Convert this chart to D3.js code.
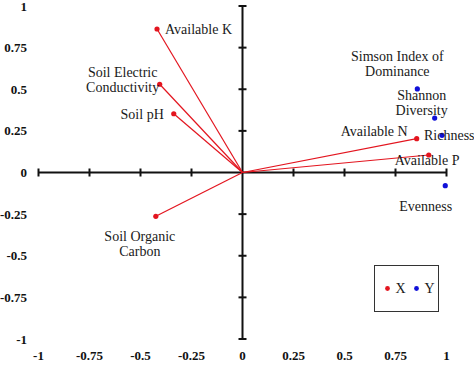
<!DOCTYPE html>
<html>
<head>
<meta charset="utf-8">
<script src="https://cdn.jsdelivr.net/npm/d3@7/dist/d3.min.js"></script>
<style>
  body { margin: 0; background: #fff; }
</style>
</head>
<body>
<script>
// ---- data ----
const xNames = ['Available K', 'Soil Electric\nConductivity', 'Soil pH', 'Soil Organic\nCarbon', 'Available N', 'Available P']
const xLoadX = [-0.419, -0.406, -0.337, -0.425, 0.854, 0.913]
const xLoadY = [0.862, 0.53, 0.353, -0.263, 0.203, 0.105]

const yNames = ['Simson Index of\nDominance', 'Shannon\nDiversity', 'Richness', 'Evenness']
const yLoadX = [0.857, 0.942, 0.978, 0.994]
const yLoadY = [0.502, 0.327, 0.223, -0.079]

const tickValues = [-1, -0.75, -0.5, -0.25, 0, 0.25, 0.5, 0.75, 1]
const legendItems = ['X', 'Y']

// ---- label placement (offsets from the point) ----
const labelLayout = {
  'Available K': { dx: 8, dy: 1, anchor: 'start' },
  'Soil Electric\nConductivity': { dx: -37, dy: -12, anchor: 'middle' },
  'Soil pH': { dx: -10, dy: 1, anchor: 'end' },
  'Soil Organic\nCarbon': { dx: -16, dy: 20, anchor: 'middle' },
  'Available N': { dx: -9, dy: -7, anchor: 'end' },
  'Available P': { dx: -34, dy: 5, anchor: 'start' },
  'Simson Index of\nDominance': { dx: -20, dy: -32, anchor: 'middle' },
  'Shannon\nDiversity': { dx: -13, dy: -23, anchor: 'middle' },
  'Richness': { dx: -18, dy: 0, anchor: 'start' },
  'Evenness': { dx: -46, dy: 21, anchor: 'start' },
}

const W = 474, H = 385
const RED = '#e3151f', BLUE = '#1010d8'
const FONT = "'Times New Roman', Tinos, serif"

const svg = d3.select('body').append('svg')
  .attr('width', W)
  .attr('height', H)
  .style('display', 'block')
  .style('font-family', FONT)

const x = d3.scaleLinear().domain([-1, 1]).range([38.5, 446.5])
const y = d3.scaleLinear().domain([-1, 1]).range([339, 6])

// axes cross at the origin
const axes = svg.append('g')
  .attr('stroke', '#111')
  .attr('stroke-width', 2)

axes.append('line')
  .attr('x1', x(-1)).attr('x2', x(1))
  .attr('y1', y(0)).attr('y2', y(0))
axes.append('line')
  .attr('x1', x(0)).attr('x2', x(0))
  .attr('y1', y(1)).attr('y2', y(-1))

axes.selectAll('.xtick')
  .data(tickValues.filter(v => v !== 0))
  .join('line')
  .attr('x1', d => x(d)).attr('x2', d => x(d))
  .attr('y1', y(0) - 4).attr('y2', y(0) + 4)

axes.selectAll('.ytick')
  .data(tickValues.filter(v => v !== 0))
  .join('line')
  .attr('class', 'ytick')
  .attr('x1', x(0) - 4).attr('x2', x(0) + 4)
  .attr('y1', d => y(d)).attr('y2', d => y(d))

// tick labels sit at the plot edges
svg.append('g')
  .selectAll('text')
  .data(tickValues)
  .join('text')
  .attr('x', d => x(d))
  .attr('y', 360)
  .attr('text-anchor', 'middle')
  .attr('font-size', 13)
  .attr('font-weight', 'bold')
  .attr('fill', '#111')
  .text(d => String(d))

svg.append('g')
  .selectAll('text')
  .data(tickValues)
  .join('text')
  .attr('x', 27)
  .attr('y', d => y(d) + 4.5)
  .attr('text-anchor', 'end')
  .attr('font-size', 13)
  .attr('font-weight', 'bold')
  .attr('fill', '#111')
  .text(d => String(d))

// X loadings: vectors from origin
const xPoints = xNames.map((name, i) => ({ name, vx: xLoadX[i], vy: xLoadY[i] }))
const yPoints = yNames.map((name, i) => ({ name, vx: yLoadX[i], vy: yLoadY[i] }))

svg.append('g')
  .selectAll('line')
  .data(xPoints)
  .join('line')
  .attr('x1', x(0)).attr('y1', y(0))
  .attr('x2', d => x(d.vx)).attr('y2', d => y(d.vy))
  .attr('stroke', RED)
  .attr('stroke-width', 1.2)

svg.append('g')
  .selectAll('circle')
  .data(xPoints)
  .join('circle')
  .attr('cx', d => x(d.vx)).attr('cy', d => y(d.vy))
  .attr('r', 2.6)
  .attr('fill', RED)

svg.append('g')
  .selectAll('circle')
  .data(yPoints)
  .join('circle')
  .attr('cx', d => x(d.vx)).attr('cy', d => y(d.vy))
  .attr('r', 2.6)
  .attr('fill', BLUE)

// point labels
const labels = svg.append('g')
  .attr('font-size', 14)
  .attr('fill', '#1a1a1a')

xPoints.concat(yPoints).forEach(d => {
  const lay = labelLayout[d.name]
  const lines = d.name.split('\n')
  const t = labels.append('text')
    .attr('text-anchor', lay.anchor)
  lines.forEach((line, k) => {
    t.append('tspan')
      .attr('x', x(d.vx) + lay.dx)
      .attr('y', y(d.vy) + lay.dy + k * 15 + 4.5)
      .text(line)
  })
})

// legend
const legend = svg.append('g').attr('transform', 'translate(374.5,265.5)')
legend.append('rect')
  .attr('width', 64).attr('height', 46)
  .attr('fill', 'none')
  .attr('stroke', '#333')
  .attr('stroke-width', 1)

const legendColor = d3.scaleOrdinal().domain(legendItems).range([RED, BLUE])
const li = legend.selectAll('g')
  .data(legendItems)
  .join('g')
  .attr('transform', (d, i) => `translate(${13 + i * 29},23)`)
li.append('circle').attr('r', 2.4).attr('fill', d => legendColor(d))
li.append('text')
  .attr('x', 8).attr('y', 4.5)
  .attr('font-size', 14)
  .attr('fill', '#1a1a1a')
  .text(d => d)
</script>
</body>
</html>
